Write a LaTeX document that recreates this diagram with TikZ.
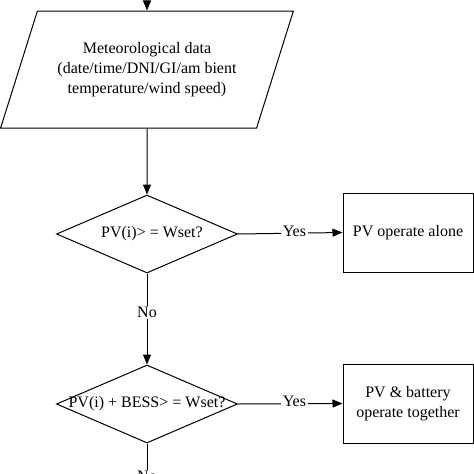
\documentclass[tikz,border=0pt]{standalone}
\usepackage{fontspec}
\setmainfont{Liberation Serif}
\usetikzlibrary{arrows.meta, shapes.geometric}

\begin{document}
\begin{tikzpicture}[x=1pt,y=-1pt,line width=1pt,
every node/.style={font=\fontsize{16}{20}\selectfont},
data/.style={draw, trapezium, trapezium left angle=63, trapezium right angle=117, trapezium stretches=true, minimum width=293pt, minimum height=117pt, align=center},
decision/.style={draw, diamond, minimum width=181pt, minimum height=78pt, inner sep=0pt},
process/.style={draw, rectangle, minimum width=130pt, minimum height=79pt, align=center},
flow/.style={-{Triangle[length=10pt,width=8pt]}},
tag/.style={fill=white, inner sep=1.5pt}]
\useasboundingbox (0,0) rectangle (474,474);
\node[data] (met) at (147,69.5) {Meteorological data\\(date/time/DNI/GI/am bient\\temperature/wind speed)};
\node[decision, label={[xshift=5pt]center:PV(i)> = Wset?}] (d1) at (147,234) {};
\node[decision, label={center:PV(i) + BESS> = Wset?}] (d2) at (147,404) {};
\node[process] (pv) at (408,232.5) {PV operate alone};
\node[process] (pvb) at (408,403.5) {PV \& battery\\operate together};
\coordinate (start) at (147,-20);
\coordinate (next) at (147,520);
%arrows
\draw[flow] (start) -- (met.north);
\draw[flow] (met.south) -- (d1.north);
\draw[flow] (d1.east) -- node[tag,pos=0.54,yshift=2pt] {Yes} (pv.west);
\draw[flow] (d1.south) -- node[tag,pos=0.43] {No} (d2.north);
\draw[flow] (d2.east) -- node[tag,pos=0.54,yshift=2pt] {Yes} (pvb.west);
\draw (d2.south) -- node[tag,pos=0.43] {No} (next);
\end{tikzpicture}
\end{document}
